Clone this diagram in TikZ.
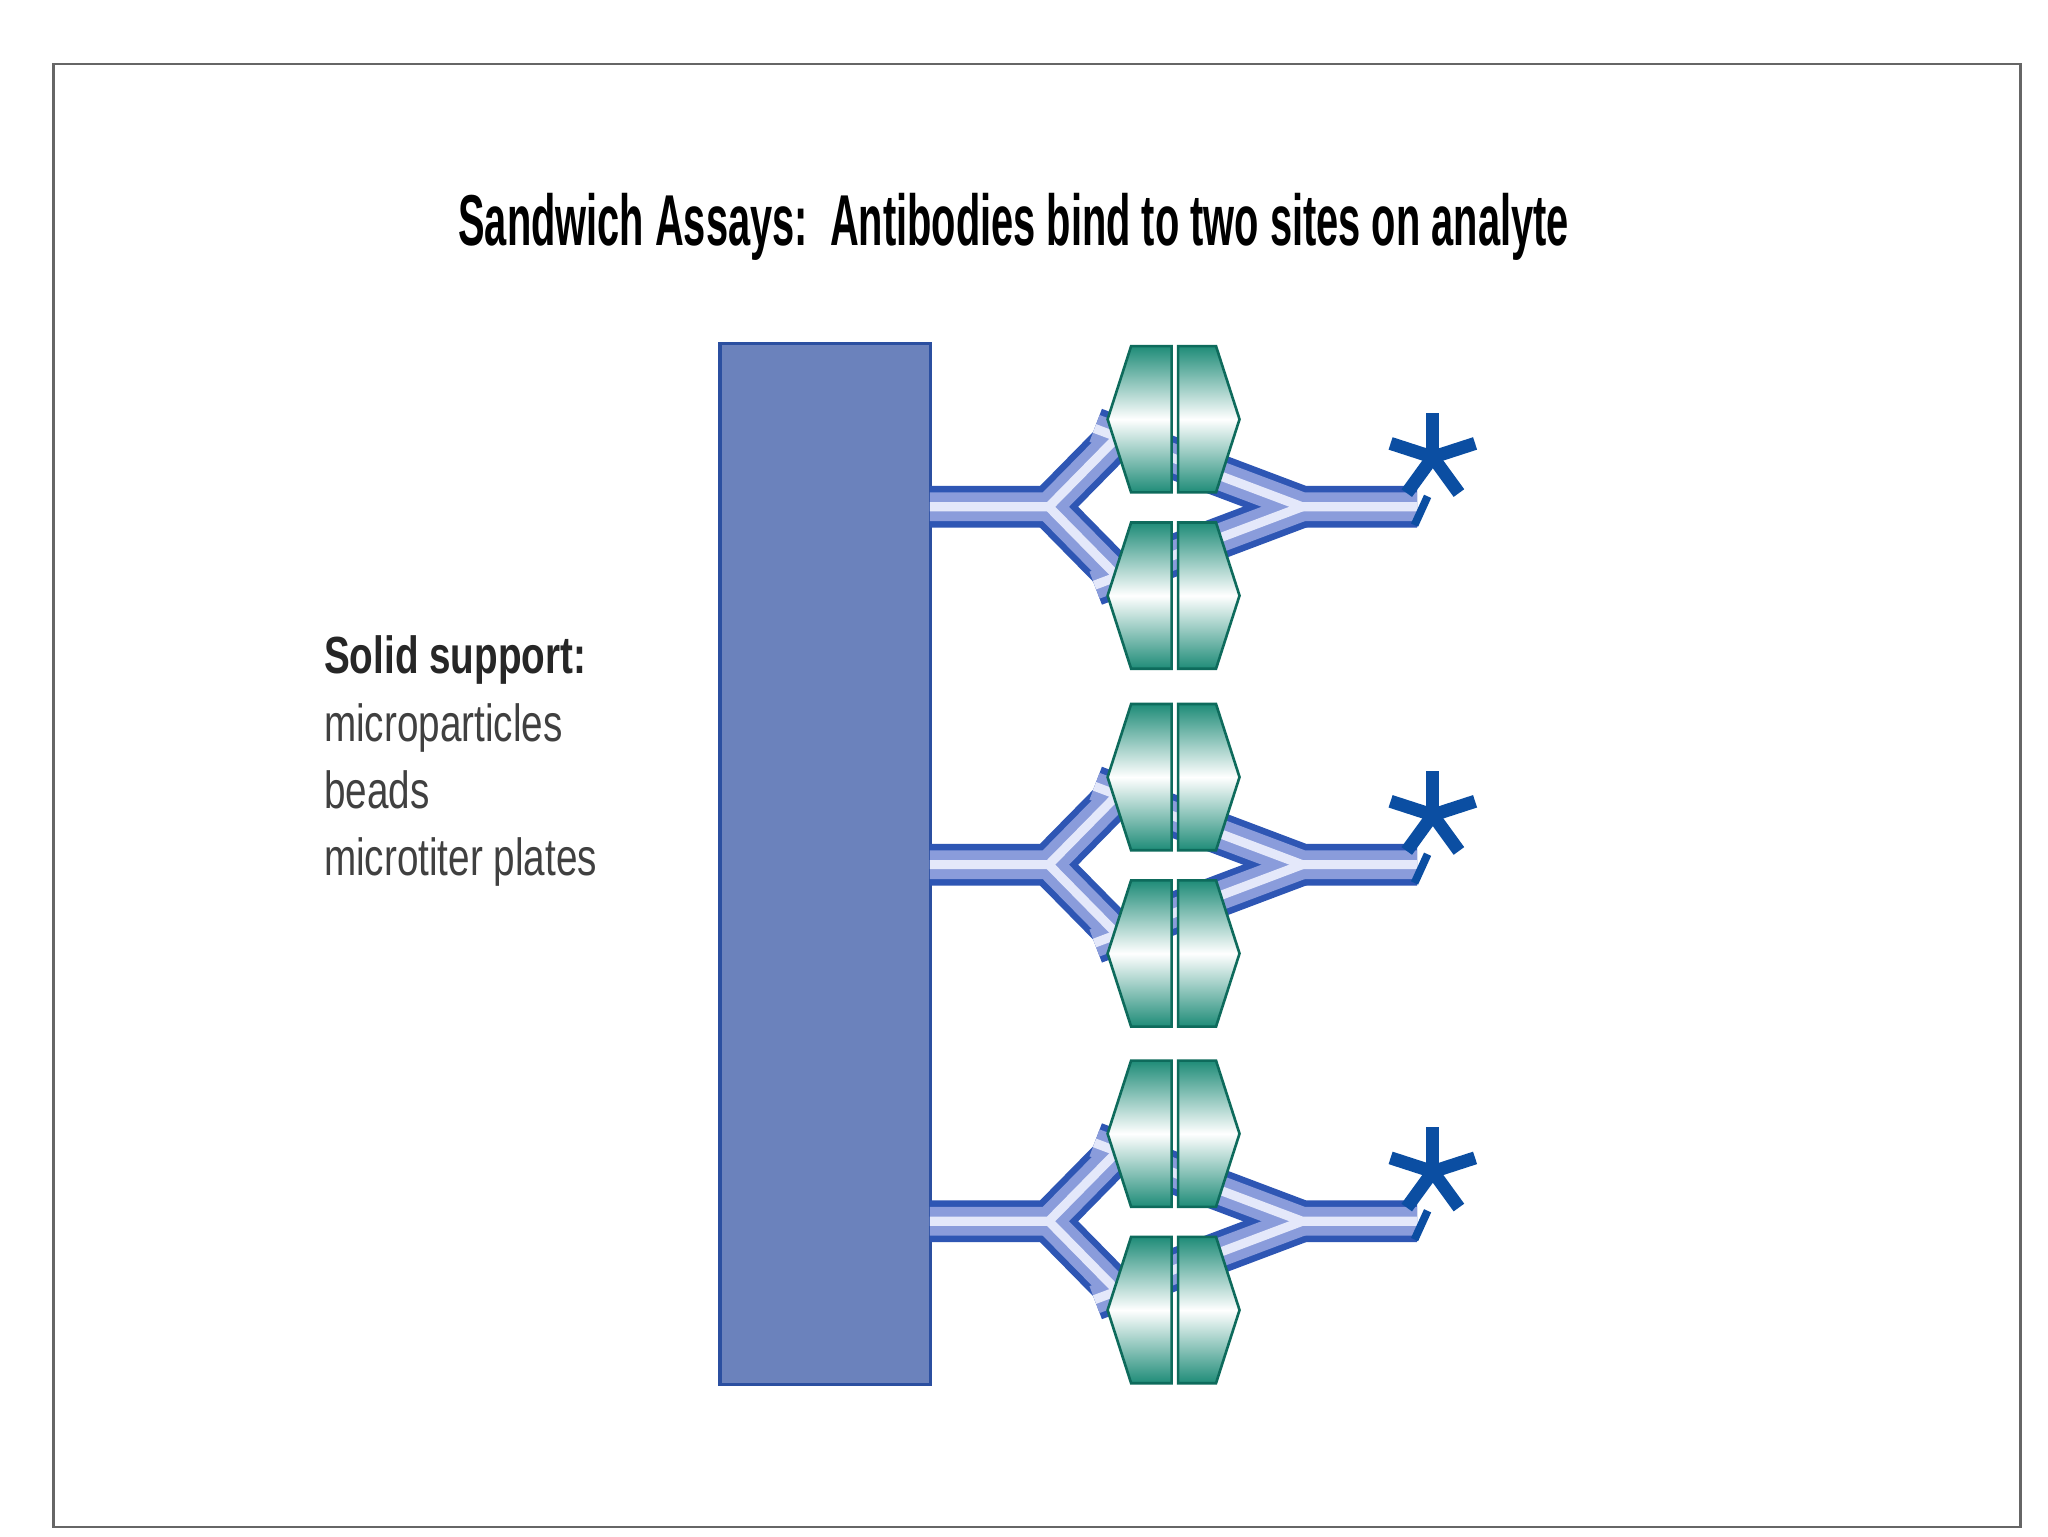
\documentclass[tikz,border=0pt]{standalone}
\usepackage{fontspec}
\setmainfont{Liberation Sans}
\usepackage{graphicx}
\definecolor{rectfill}{HTML}{6B82BC}
\definecolor{rectline}{HTML}{2B4FA0}
\definecolor{teal1}{HTML}{1F8C78}
\definecolor{teal2}{HTML}{0E6B5C}
\definecolor{tubeout}{HTML}{2E56B4}
\definecolor{tubein}{HTML}{8A9CDB}
\definecolor{tubehi}{HTML}{E4E8FA}
\definecolor{stardark}{HTML}{0B4EA2}
\begin{document}
\begin{tikzpicture}[x=1pt,y=-1pt,
  fab/.style={draw=teal2,line width=2pt,top color=teal1,bottom color=teal1,middle color=white},
  tubeA/.style={draw=tubeout,line width=32pt,line join=miter},
  tubeB/.style={draw=tubein,line width=22pt,line join=miter},
  tubeC/.style={draw=tubehi,line width=7pt,line join=miter},
  starline/.style={draw=stardark,line width=10pt}]
\useasboundingbox (0,0) rectangle (1568,1176);
\fill[white] (0,0) rectangle (1568,1176);
\node[draw=gray!80!black,line width=2pt,minimum width=1506pt,minimum height=1120pt,anchor=north west,inner sep=0pt] (frame) at (40,48) {};
\node[anchor=base,inner sep=0pt] (title) at (776,188) {\resizebox{850pt}{40pt}{\bfseries Sandwich Assays:\ \ Antibodies bind to two sites on analyte}};
\node[draw=rectline,line width=2.5pt,fill=rectfill,minimum width=161pt,minimum height=797pt,anchor=north west,inner sep=0pt] (support) at (550,262) {};
\node[anchor=base west,inner sep=0pt,xscale=0.74,text=black!85] (l1) at (248,516) {\fontsize{40}{44}\selectfont\bfseries Solid support:};
\node[anchor=base west,inner sep=0pt,xscale=0.74,text=black!75] (l2) at (248,568) {\fontsize{40}{44}\selectfont microparticles};
\node[anchor=base west,inner sep=0pt,xscale=0.74,text=black!75] (l3) at (248,619) {\fontsize{40}{44}\selectfont beads};
\node[anchor=base west,inner sep=0pt,xscale=0.74,text=black!75] (l4) at (248,670) {\fontsize{40}{44}\selectfont microtiter plates};
\foreach \c/\n in {388/a,662/b,935/c}{
  \begin{scope}[shift={(0,\c)}]
    \coordinate (\n s) at (712,0);
    \coordinate (\n bl) at (803,0);
    \coordinate (\n br) at (997,0);
    \coordinate (\n e) at (1085,0);
    \foreach \t in {tubeA,tubeB,tubeC}{
      \draw[\t] (\n s) -- (\n bl) -- (862,-60);
      \draw[\t] (\n bl) -- (862,60);
      \draw[\t] (838,-60) -- (\n br) -- (\n e);
      \draw[\t] (\n br) -- (838,60);
    }
    \foreach \y in {-123,12}{
      \draw[fab] (897,\y) -- (866,\y) -- (848,\y+56) -- (866,\y+112) -- (897,\y+112) -- cycle;
      \draw[fab] (902,\y) -- (931,\y) -- (949,\y+56) -- (931,\y+112) -- (902,\y+112) -- cycle;
    }
    \coordinate (\n st) at (1097,-38);
    \foreach \a in {90,18,162,234,306}{
      \draw[starline] (\n st) -- ++(\a:-34);
    }
    \draw[draw=stardark,line width=6pt] (\n e) ++(-2,14) -- ++(10,-22);
  \end{scope}
}
\end{tikzpicture}
\end{document}
